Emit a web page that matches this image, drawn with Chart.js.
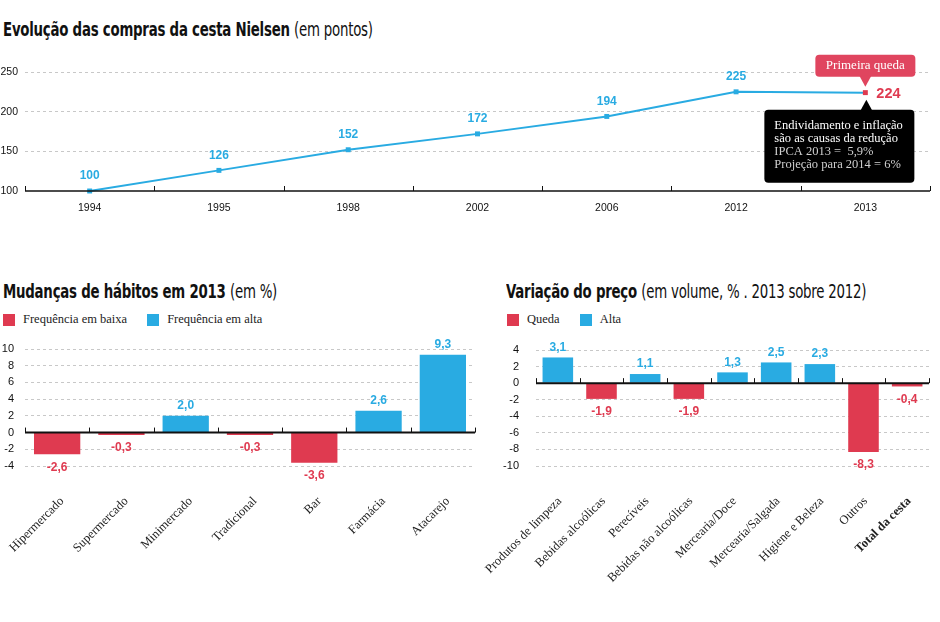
<!DOCTYPE html>
<html lang="pt-BR">
<head>
<meta charset="utf-8">
<title>Cesta Nielsen</title>
<script src="https://cdn.jsdelivr.net/npm/chart.js@4.4.1/dist/chart.umd.min.js"></script>
<style>
    body {
        margin: 0;
        width: 940px;
        height: 622px;
        background: #fff;
        position: relative;
        overflow: hidden;
    }
    .titulo {
        position: absolute;
        font-family: "DejaVu Sans Condensed", "Liberation Sans", sans-serif;
        font-weight: bold;
        font-size: 19px;
        line-height: 19px;
        letter-spacing: -0.3px;
        color: #111;
        white-space: nowrap;
        transform: scaleX(0.78);
        transform-origin: left center;
    }
    .titulo span {
        font-weight: normal;
    }
    .legenda {
        position: absolute;
        display: flex;
        align-items: center;
        font-family: "Liberation Serif", serif;
        font-size: 12.5px;
        color: #222;
    }
    .legenda .item {
        display: flex;
        align-items: center;
        margin-right: 20px;
    }
    .legenda .quadrado {
        width: 12px;
        height: 12px;
        margin-right: 8px;
    }
    .graf {
        position: absolute;
    }
</style>
</head>
<body>

<div class="titulo" style="left:3px; top:20px">Evolução das compras da cesta Nielsen <span>(em pontos)</span></div>
<div class="graf" style="left:0; top:45px; width:940px; height:180px"><canvas id="grafCesta"></canvas></div>

<div class="titulo" style="left:3px; top:282px">Mudanças de hábitos em 2013 <span>(em %)</span></div>
<div class="legenda" id="legHabitos" style="left:3px; top:312px"></div>
<div class="graf" style="left:0; top:335px; width:480px; height:270px"><canvas id="grafHabitos"></canvas></div>

<div class="titulo" style="left:506px; top:282px">Variação do preço <span>(em volume, % . 2013 sobre 2012)</span></div>
<div class="legenda" id="legPreco" style="left:507px; top:312px"></div>
<div class="graf" style="left:465px; top:335px; width:475px; height:270px"><canvas id="grafPreco"></canvas></div>

<script>
// ---- dados ----
const anos = ["1994", "1995", "1998", "2002", "2006", "2012", "2013"];
const pontos = [100, 126, 152, 172, 194, 225, 224];
const ticksPontos = [100, 150, 200, 250];

const habitos = ["Hipermercado", "Supermercado", "Minimercado", "Tradicional", "Bar", "Farmácia", "Atacarejo"];
const variacaoHabitos = [-2.6, -0.3, 2.0, -0.3, -3.6, 2.6, 9.3];
const ticksHabitos = [-4, -2, 0, 2, 4, 6, 8, 10];
const legendaHabitos = ["Frequência em baixa", "Frequência em alta"];

const produtos = ["Produtos de limpeza", "Bebidas alcoólicas", "Perecíveis", "Bebidas não alcoólicas",
    "Mercearia/Doce", "Mercearia/Salgada", "Higiene e Beleza", "Outros", "Total da cesta"];
const variacaoPreco = [3.1, -1.9, 1.1, -1.9, 1.3, 2.5, 2.3, -8.3, -0.4];
const ticksPreco = [-10, -8, -6, -4, -2, 0, 2, 4];
const legendaPreco = ["Queda", "Alta"];

const AZUL = "#29abe2";
const VERMELHO = "#df3a50";
const GRADE = "#c8c8c8";
const SANS = '"Liberation Sans", Arial, sans-serif';
const SERIF = '"Liberation Serif", serif';

function fmt(v) {
    return v.toFixed(1).replace(".", ",");
}

function montaLegenda(id, nomes) {
    const cores = [VERMELHO, AZUL];
    const el = document.getElementById(id);
    nomes.forEach((nome, i) => {
        const item = document.createElement("div");
        item.className = "item";
        item.innerHTML = `<span class="quadrado" style="background:${cores[i]}"></span>${nome}`;
        el.appendChild(item);
    });
}

// linha de base preta com tracinhos entre as categorias
const eixoBase = {
    id: "eixoBase",
    afterDatasetsDraw(chart, args, opts) {
        const { ctx, chartArea } = chart;
        const x = chart.scales.x;
        const y0 = chart.scales.y.getPixelForValue(opts.base);
        const n = x.ticks.length;
        ctx.save();
        ctx.strokeStyle = "#111";
        ctx.lineWidth = 1;
        ctx.beginPath();
        for (let i = 0; i <= n; i++) {
            let px;
            if (i === 0) px = chartArea.left;
            else if (i === n) px = chartArea.right;
            else px = (x.getPixelForValue(i - 1) + x.getPixelForValue(i)) / 2;
            px = Math.round(px) + 0.5;
            ctx.moveTo(px, y0);
            ctx.lineTo(px, y0 - 5);
        }
        ctx.stroke();
        ctx.lineWidth = opts.largura || 2;
        ctx.beginPath();
        ctx.moveTo(chartArea.left, y0);
        ctx.lineTo(chartArea.right, y0);
        ctx.stroke();
        ctx.restore();
    }
};

const rotulosBarras = {
    id: "rotulosBarras",
    afterDatasetsDraw(chart) {
        const ctx = chart.ctx;
        const valores = chart.data.datasets[0].data;
        ctx.save();
        ctx.font = "bold 12px " + SANS;
        ctx.textAlign = "center";
        ctx.textBaseline = "middle";
        chart.getDatasetMeta(0).data.forEach((barra, i) => {
            const v = valores[i];
            ctx.fillStyle = v < 0 ? VERMELHO : AZUL;
            ctx.fillText(fmt(v), barra.x, v < 0 ? barra.y + 13 : barra.y - 10);
        });
        ctx.restore();
    }
};

const rotulosCesta = {
    id: "rotulosCesta",
    afterDraw(chart) {
        const ctx = chart.ctx;
        const pts = chart.getDatasetMeta(0).data;
        const ult = pts.length - 1;
        ctx.save();
        ctx.textBaseline = "middle";
        pts.forEach((p, i) => {
            if (i === ult) return;
            ctx.font = "bold 12px " + SANS;
            ctx.textAlign = "center";
            ctx.fillStyle = AZUL;
            ctx.fillText(pontos[i], p.x, p.y - 15);
        });

        const p = pts[ult];
        ctx.font = "bold 14.5px " + SANS;
        ctx.textAlign = "left";
        ctx.fillStyle = VERMELHO;
        ctx.fillText(pontos[ult], p.x + 11, p.y + 1);

        // balão vermelho
        ctx.fillStyle = "#e0455f";
        ctx.beginPath();
        ctx.roundRect(p.x - 50, p.y - 38, 100, 22, 4);
        ctx.fill();
        ctx.beginPath();
        ctx.moveTo(p.x - 6, p.y - 17);
        ctx.lineTo(p.x + 6, p.y - 17);
        ctx.lineTo(p.x, p.y - 6);
        ctx.fill();
        ctx.font = "13px " + SERIF;
        ctx.fillStyle = "#fff";
        ctx.textAlign = "center";
        ctx.fillText("Primeira queda", p.x, p.y - 27);

        // caixa preta
        ctx.fillStyle = "#000";
        ctx.beginPath();
        ctx.roundRect(p.x - 101, p.y + 17, 150, 73, 4);
        ctx.fill();
        ctx.beginPath();
        ctx.moveTo(p.x - 5, p.y + 18);
        ctx.lineTo(p.x + 7, p.y + 18);
        ctx.lineTo(p.x + 1, p.y + 7);
        ctx.fill();
        ctx.font = "12.5px " + SERIF;
        ctx.textAlign = "left";
        const linhas = ["Endividamento e inflação", "são as causas da redução", "IPCA 2013 =  5,9%", "Projeção para 2014 = 6%"];
        linhas.forEach((t, i) => {
            ctx.fillStyle = i < 2 ? "#fff" : "#cfcfcf";
            ctx.fillText(t, p.x - 91, p.y + 33 + i * 13);
        });
        ctx.restore();
    }
};

function criaCesta() {
    new Chart(document.getElementById("grafCesta"), {
        type: "line",
        data: {
            labels: anos,
            datasets: [{
                data: pontos,
                borderColor: AZUL,
                borderWidth: 2,
                tension: 0,
                pointStyle: "rect",
                pointRadius: 3.5,
                pointBorderWidth: 0,
                pointBackgroundColor: pontos.map((v, i) => i === pontos.length - 1 ? VERMELHO : AZUL),
                clip: false
            }]
        },
        options: {
            responsive: true,
            maintainAspectRatio: false,
            animation: false,
            layout: { padding: { top: 27, right: 10, left: 0, bottom: 0 } },
            plugins: {
                legend: { display: false },
                tooltip: { enabled: false },
                eixoBase: { base: 100, largura: 1.5 }
            },
            scales: {
                x: {
                    offset: true,
                    grid: { display: false, drawTicks: false },
                    border: { display: false },
                    ticks: { color: "#111", font: { family: SANS, size: 10.5 }, padding: 11, maxRotation: 0 },
                    afterFit: s => { s.height = 34; s.paddingLeft = 0; s.paddingRight = 0; }
                },
                y: {
                    min: 100,
                    max: 250,
                    afterBuildTicks: s => { s.ticks = ticksPontos.map(v => ({ value: v })); },
                    grid: {
                        color: ctx => ctx.tick && ctx.tick.value === 100 ? "rgba(0,0,0,0)" : GRADE,
                        drawTicks: false
                    },
                    border: { display: false, dash: [3, 3] },
                    ticks: { color: "#111", font: { family: SANS, size: 10.5 }, padding: 7, autoSkip: false },
                    afterFit: s => { s.width = 25; s.paddingTop = 0; s.paddingBottom = 0; }
                }
            }
        },
        plugins: [eixoBase, rotulosCesta]
    });
}

function criaBarras(id, categorias, valores, ticks, opc) {
    new Chart(document.getElementById(id), {
        type: "bar",
        data: {
            labels: categorias,
            datasets: [{
                data: valores,
                backgroundColor: valores.map(v => v < 0 ? VERMELHO : AZUL),
                barPercentage: opc.larguraBarra,
                categoryPercentage: 1
            }]
        },
        options: {
            responsive: true,
            maintainAspectRatio: false,
            animation: false,
            layout: { padding: { top: opc.topo, right: opc.direita, left: 0, bottom: 0 } },
            plugins: {
                legend: { display: false },
                tooltip: { enabled: false },
                eixoBase: { base: 0, largura: 2 }
            },
            scales: {
                x: {
                    grid: { display: false, drawTicks: false },
                    border: { display: false },
                    ticks: {
                        color: "#222",
                        autoSkip: false,
                        minRotation: 45,
                        maxRotation: 45,
                        padding: 28,
                        labelOffset: opc.deslocaRotulo,
                        font: ctx => ({
                            family: SERIF,
                            size: 12.5,
                            weight: opc.negrito && ctx.index === categorias.length - 1 ? "bold" : "normal"
                        })
                    },
                    afterFit: s => { s.height = 139; s.paddingLeft = 0; s.paddingRight = 0; }
                },
                y: {
                    min: ticks[0],
                    max: ticks[ticks.length - 1],
                    afterBuildTicks: s => { s.ticks = ticks.map(v => ({ value: v })); },
                    grid: {
                        color: ctx => ctx.tick && ctx.tick.value === 0 ? "rgba(0,0,0,0)" : GRADE,
                        drawTicks: false
                    },
                    border: { display: false, dash: [3, 3] },
                    ticks: { color: "#111", font: { family: SANS, size: 11 }, padding: opc.recuo, autoSkip: false },
                    afterFit: s => { s.width = opc.larguraEixo; s.paddingTop = 0; s.paddingBottom = 0; }
                }
            }
        },
        plugins: [eixoBase, rotulosBarras]
    });
}

window.onload = function() {
    montaLegenda("legHabitos", legendaHabitos);
    montaLegenda("legPreco", legendaPreco);
    criaCesta();
    criaBarras("grafHabitos", habitos, variacaoHabitos, ticksHabitos,
        { larguraBarra: 0.72, topo: 14, direita: 5, larguraEixo: 25, recuo: 11, deslocaRotulo: 5, negrito: false });
    criaBarras("grafPreco", produtos, variacaoPreco, ticksPreco,
        { larguraBarra: 0.7, topo: 15, direita: 11, larguraEixo: 71, recuo: 17, deslocaRotulo: 2, negrito: true });
};
</script>
</body>
</html>
